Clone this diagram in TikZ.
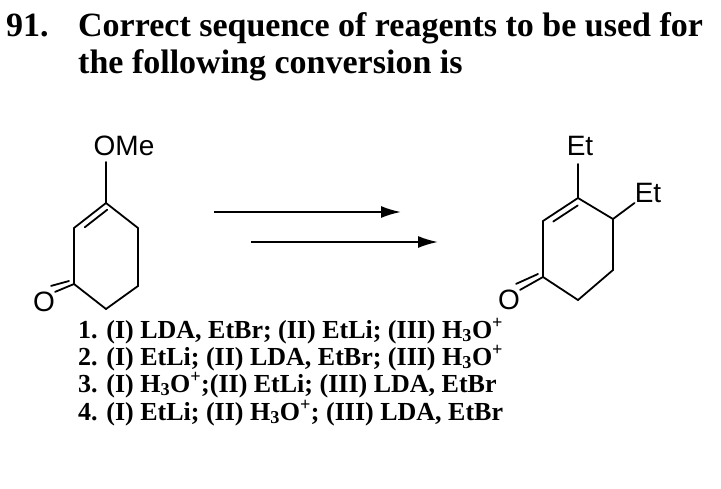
\documentclass[tikz,border=0pt]{standalone}
\usepackage{fontspec}
\setmainfont{Liberation Serif}
\newfontfamily\labelfont{Liberation Sans}
\usetikzlibrary{arrows.meta,calc}

\begin{document}
\begin{tikzpicture}[
  x=1pt, y=-1pt,
  % --- styles ---
  bond/.style={line width=1.8pt, line cap=round},
  rxn/.style={line width=2pt, -{Latex[length=20pt,width=12pt]}},
  atm/.style={font=\labelfont\fontsize{28}{28}\selectfont, inner sep=0pt},
  head/.style={font=\bfseries\fontsize{34}{34}\selectfont, anchor=base west, inner sep=0pt},
  opt/.style={font=\bfseries\fontsize{26}{26}\selectfont, anchor=base west, inner sep=0pt},
]
  \useasboundingbox (0,0) rectangle (721,488);

  % --- question ---
  \node[head] (qno) at (6,36) {91.};
  \node[head] (q1) at (78,36) {Correct sequence of reagents to be used for};
  \node[head] (q2) at (78,73) {the following conversion is};

  % --- starting material ---
  \coordinate (a1) at (106,203);
  \coordinate (a2) at (138,228);
  \coordinate (a3) at (138,286);
  \coordinate (a4) at (106,309);
  \coordinate (a5) at (74,284);
  \coordinate (a6) at (74,228);
  \draw[bond] (a1) -- (a2) -- (a3) -- (a4) -- (a5) -- (a6) -- cycle;
  \draw[bond] ($(a6)!0.15!(a1)+(6,3)$) -- ($(a6)!0.85!(a1)+(6,3)$);
  \node[atm] (ome) at (124,146) {OMe};
  \draw[bond] (a1) -- (106,162);
  \node[atm] (oa) at (44,302) {O};
  \draw[bond] (a5) -- (oa.north east);
  \draw[bond] ($(a5)+(-5,-3)$) -- ($(oa.north east)+(-4,-6)$);

  % --- arrows ---
  \coordinate (r1) at (214,212);
  \coordinate (r2) at (401,212);
  \coordinate (r3) at (251,242);
  \coordinate (r4) at (438,242);
  \draw[rxn] (r1) -- (r2);
  \draw[rxn] (r3) -- (r4);

  % --- product ---
  \coordinate (b1) at (578,198);
  \coordinate (b2) at (613,219);
  \coordinate (b3) at (613,270);
  \coordinate (b4) at (578,300);
  \coordinate (b5) at (543,277);
  \coordinate (b6) at (543,221);
  \draw[bond] (b1) -- (b2) -- (b3) -- (b4) -- (b5) -- (b6) -- cycle;
  \draw[bond] ($(b6)!0.15!(b1)+(5,4)$) -- ($(b6)!0.85!(b1)+(5,4)$);
  \node[atm] (et1) at (580,146) {Et};
  \draw[bond] (b1) -- (578,164);
  \node[atm] (et2) at (648,193) {Et};
  \draw[bond] (b2) -- (et2.south west);
  \node[atm] (ob) at (509,300) {O};
  \draw[bond] (b5) -- (ob.north east);
  \draw[bond] ($(b5)+(-5,-3)$) -- ($(ob.north east)+(-4,-6)$);

  % --- options ---
  \node[opt] (o1) at (78,338) {1. (I) LDA, EtBr; (II) EtLi; (III) H\textsubscript{3}O\textsuperscript{+}};
  \node[opt] (o2) at (78,365) {2. (I) EtLi; (II) LDA, EtBr; (III) H\textsubscript{3}O\textsuperscript{+}};
  \node[opt] (o3) at (78,392) {3. (I) H\textsubscript{3}O\textsuperscript{+};(II) EtLi; (III) LDA, EtBr};
  \node[opt] (o4) at (78,420) {4. (I) EtLi; (II) H\textsubscript{3}O\textsuperscript{+}; (III) LDA, EtBr};
\end{tikzpicture}
\end{document}
